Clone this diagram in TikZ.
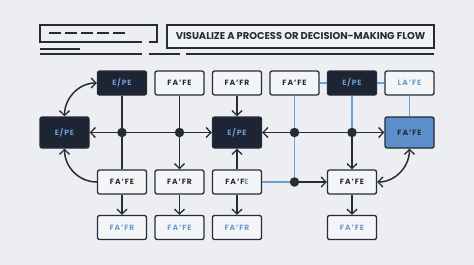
\documentclass[tikz,border=0pt]{standalone}
\usepackage{fontspec}
\setmainfont{Poppins}
\newfontfamily\boxfont{Poppins}[LetterSpace=12]
\usetikzlibrary{
  arrows.meta
}
\definecolor{paperbg}{HTML}{ECEEF1}
\definecolor{ink}{HTML}{262B36}
\definecolor{navy}{HTML}{1D2535}
\definecolor{cardfill}{HTML}{F4F5F7}
\definecolor{linkblue}{HTML}{6F9ED3}
\definecolor{cardblue}{HTML}{5C8FC9}
\definecolor{textblue}{HTML}{6C9BD0}
\tikzset{
  flow card/.style={
    draw=ink,
    line width=1.3pt,
    fill=cardfill,
    rounded corners=2pt,
    minimum width=49pt,
    minimum height=24pt,
    inner sep=0pt,
    font=\boxfont\bfseries\fontsize{7.6}{8}\selectfont,
    text=ink
  },
  dark card/.style={
    flow card,
    fill=navy,
    text=textblue
  },
  tall card/.style={
    minimum height=31pt
  },
  barb/.tip={Straight Barb[length=4.8pt,width=10pt,line width=1.3pt]},
  flow arrow/.style={
    draw=ink,
    line width=1.5pt,
    -barb
  },
  flow line/.style={
    draw=ink,
    line width=1.5pt
  },
  blue link/.style={
    draw=linkblue,
    line width=1.3pt
  },
  junction/.style={
    circle,
    fill=ink,
    inner sep=0pt,
    minimum size=9.5pt
  }
}

\begin{document}
\begin{tikzpicture}[x=1pt,y=-1pt]

    \useasboundingbox (0,0) rectangle (474,265);
    \fill[paperbg] (0,0) rectangle (474,265);

    % ---------- header ----------
    \draw[ink, line width=1.4pt]
      (142,42) -- (40,42) -- (40,25) -- (157,25)
      -- (157,42) -- (149,42);
    \draw[ink, line width=2.6pt, dash pattern=on 12pt off 4pt]
      (49,33) -- (126,33);
    \draw[ink, line width=1.5pt] (40,49) -- (80,49);
    \draw[ink, line width=1.5pt] (40,54) -- (142,54);
    \draw[ink, line width=1.5pt] (149,54) -- (180,54);
    \draw[ink, line width=1.5pt] (186,54) -- (434,54);

    \node[draw=ink, line width=1.4pt, fill=cardfill!50!paperbg,
      minimum width=267pt, minimum height=23pt, inner sep=0pt,
      font=\bfseries\fontsize{9.9}{11}\selectfont, text=ink]
      (title) at (300.5,36.5)
      {VISUALIZE A PROCESS OR DECISION-MAKING FLOW};

    % ---------- top row ----------
    \node[dark card] (a1) at (122,83) {E/PE};
    \node[flow card] (a2) at (179.5,83) {FA’FE};
    \node[flow card] (a3) at (237,83) {FA’FR};
    \node[flow card] (a4) at (294.5,83) {FA’FE};
    \node[dark card] (a5) at (352,83) {E/PE};
    \node[flow card, text=textblue] (a6) at (409.5,83) {LA’FE};

    % ---------- middle row ----------
    \node[dark card, tall card] (b0) at (64.5,132.5) {E/PE};
    \node[dark card, tall card] (b3) at (237,132.5) {E/PE};
    \node[flow card, tall card, fill=cardblue] (b6) at (409.5,132.5) {FA’FE};

    % ---------- lower rows ----------
    \node[flow card] (c1) at (122,182) {FA’FE};
    \node[flow card] (c2) at (179.5,182) {FA’FR};
    \node[flow card] (c3) at (237,182) {FA’F\textcolor{textblue}{E}};
    \node[flow card] (c5) at (352,182) {FA’FE};

    \node[flow card, text=textblue] (d1) at (122,227.5) {FA’FR};
    \node[flow card, text=textblue] (d2) at (179.5,227.5) {FA’FE};
    \node[flow card, text=textblue] (d3) at (237,227.5) {FA’FR};
    \node[flow card, text=textblue] (d5) at (352,227.5) {FA’FE};

    % junctions
    \coordinate (j1) at (122,132.5);
    \coordinate (j2) at (179.5,132.5);
    \coordinate (j4) at (294.5,132.5);
    \coordinate (j5) at (352,132.5);
    \coordinate (j6) at (294.5,182);

    % blue links
    \draw[blue link] (a4.east) -- (a5.west);
    \draw[blue link] (a5.east) -- (a6.west);
    \draw[blue link] (a6.south) -- (b6.north);
    \draw[blue link] (a4.south) -- (j6);
    \draw[blue link] (c3.east) -- (j6);
    \draw[blue link] (a5.south) -- (j5);

    % main flow
    \draw[flow line] (a1.south) -- (c1.north);
    \draw[flow arrow] (a2.south) -- (c2.north);
    \draw[flow arrow] (j1) -- (b0.east);
    \draw[flow arrow] (j1) -- (b3.west);
    \draw[flow arrow] (a3.south) -- (b3.north);
    \draw[flow arrow] (c3.north) -- (b3.south);
    \draw[flow arrow] (j5) -- (b3.east);
    \draw[flow arrow] (j4) -- (b6.west);
    \draw[flow arrow] (j5) -- (c5.north);
    \draw[flow arrow] (j6) -- (c5.west);

    \draw[flow arrow] (c1.south) -- (d1.north);
    \draw[flow arrow] (c2.south) -- (d2.north);
    \draw[flow arrow] (c3.south) -- (d3.north);
    \draw[flow arrow] (c5.south) -- (d5.north);

    % loops
    \draw[flow arrow, barb-barb]
      (b0.north) to[out=90,in=180] (a1.west);
    \draw[flow arrow]
      (c1.west) to[out=180,in=-90] (b0.south);
    \draw[flow arrow, barb-barb]
      (c5.east) to[out=0,in=-90] (b6.south);

    \node[junction] (dot1) at (j1) {};
    \node[junction] (dot2) at (j2) {};
    \node[junction] (dot4) at (j4) {};
    \node[junction] (dot5) at (j5) {};
    \node[junction] (dot6) at (j6) {};

\end{tikzpicture}
\end{document}
